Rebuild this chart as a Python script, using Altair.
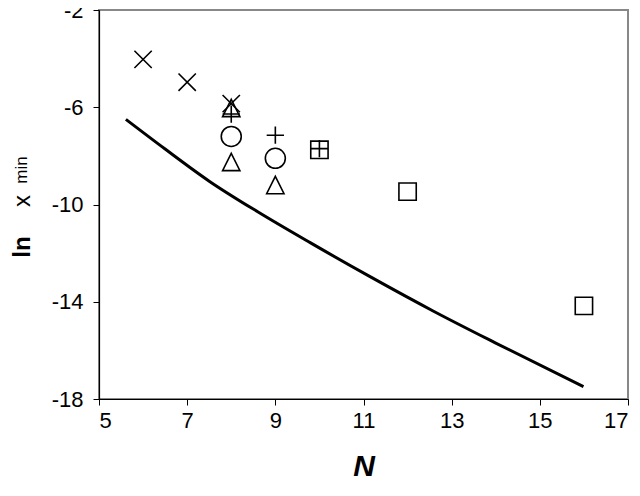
import altair as alt
import pandas as pd

# ---- data ----
x_cross_x = [6, 7, 8]
x_cross_y = [-4.03, -4.97, -5.85]

plus_x = [8, 9, 10]
plus_y = [-6.28, -7.15, -7.7]

circle_x = [8, 9]
circle_y = [-7.2, -8.1]

tri_x = [8, 8, 9]
tri_y = [-6.03, -8.25, -9.2]

square_x = [10, 12, 16]
square_y = [-7.75, -9.47, -14.17]

curve_x = [5.61, 6.5, 7.5, 8.6, 9.8, 11.2, 12.6, 14.0, 15.99]
curve_y = [-6.50, -7.72, -9.04, -10.30, -11.58, -13.02, -14.40, -15.70, -17.49]

x_ticks = [5, 7, 9, 11, 13, 15, 17]
y_ticks = [-18, -14, -10, -6, -2]

FONT = "Liberation Sans"
HYPHEN_EXPR = "replace(datum.label, '\u2212', '-')"

xs = alt.X("N:Q", scale=alt.Scale(domain=[5, 17], nice=False, zero=False),
           axis=alt.Axis(values=x_ticks, title="N", titleFontStyle="italic",
                         titleFontWeight="bold", titleFontSize=30, titlePadding=20,
                         labelPadding=5))
ys = alt.Y("v:Q", scale=alt.Scale(domain=[-18, -2], nice=False, zero=False),
           axis=alt.Axis(values=y_ticks, title=None, labelPadding=10,
                         labelExpr=HYPHEN_EXPR))


def pts(xv, yv):
    return pd.DataFrame({"N": xv, "v": yv})


line = alt.Chart(pts(curve_x, curve_y)).mark_line(
    color="black", strokeWidth=3, interpolate="monotone"
).encode(x=xs, y=ys)

cross = alt.Chart(pts(x_cross_x, x_cross_y)).mark_point(
    shape="M-1,-1L1,1M1,-1L-1,1", size=300, filled=False, color="black", strokeWidth=1.6, opacity=1
).encode(x=xs, y=ys)

plus = alt.Chart(pts(plus_x, plus_y)).mark_point(
    shape="M-1,0L1,0M0,-1L0,1", size=300, filled=False, color="black", strokeWidth=1.6, opacity=1
).encode(x=xs, y=ys)

circ = alt.Chart(pts(circle_x, circle_y)).mark_point(
    shape="circle", size=400, filled=False, color="black", strokeWidth=1.6, opacity=1
).encode(x=xs, y=ys)

tri = alt.Chart(pts(tri_x, tri_y)).mark_point(
    shape="M0,-1L1,1L-1,1Z", size=300, filled=False, color="black", strokeWidth=1.6, opacity=1
).encode(x=xs, y=ys)

sq = alt.Chart(pts(square_x, square_y)).mark_point(
    shape="square", size=300, filled=False, color="black", strokeWidth=1.6, opacity=1
).encode(x=xs, y=ys)

# y-axis title "ln x_min" built from three rotated text pieces
t_ln = alt.Chart(pd.DataFrame({"t": ["ln"]})).mark_text(
    angle=270, font=FONT, fontSize=24, fontWeight="bold", align="center", baseline="alphabetic", color="black"
).encode(text="t:N", x=alt.value(-69), y=alt.value(237))
t_x = alt.Chart(pd.DataFrame({"t": ["x"]})).mark_text(
    angle=270, font=FONT, fontSize=24, align="center", baseline="alphabetic", color="black"
).encode(text="t:N", x=alt.value(-69), y=alt.value(191))
t_min = alt.Chart(pd.DataFrame({"t": ["min"]})).mark_text(
    angle=270, font=FONT, fontSize=17, align="center", baseline="alphabetic", color="black"
).encode(text="t:N", x=alt.value(-72), y=alt.value(160))

chart = alt.layer(line, cross, plus, circ, tri, sq, t_ln, t_x, t_min).properties(
    width=529, height=389,
    autosize=alt.AutoSizeParams(type="none"),
    padding={"left": 91, "top": 2, "right": 4, "bottom": 90},
).configure_view(
    stroke="#888888", strokeWidth=2
).configure_axis(
    grid=False, domainColor="black", domainWidth=1.2, tickColor="black", tickSize=6,
    labelFont=FONT, labelFontSize=22, labelColor="black",
    titleFont=FONT, titleColor="black",
)

chart.save("out.html", embed_options={"renderer": "svg", "actions": False})
